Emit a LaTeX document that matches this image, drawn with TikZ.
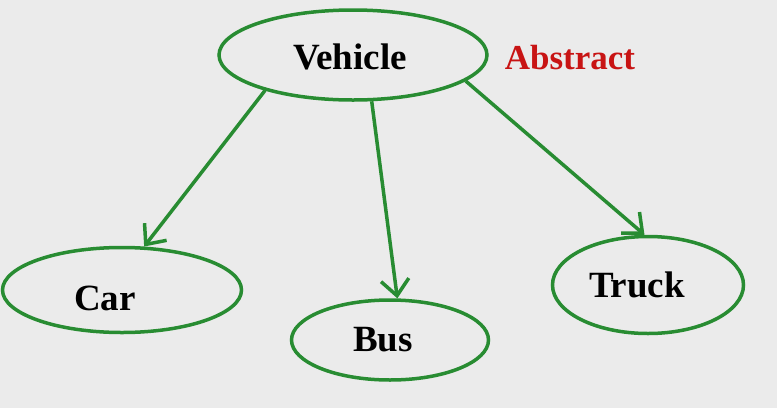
\documentclass[tikz,border=0pt]{standalone}
\usepackage{fontspec}
\setmainfont{Liberation Serif}
\usetikzlibrary{shapes.geometric,arrows.meta}
\definecolor{bg}{RGB}{235,235,235}
\definecolor{gr}{RGB}{40,140,50}
\definecolor{rd}{RGB}{200,20,20}
\begin{document}
\begin{tikzpicture}[x=1pt,y=-1pt,
  ell/.style={ellipse,draw=gr,line width=3.5pt,inner sep=0pt},
  txt/.style={font=\bfseries\fontsize{37}{40}\selectfont},
  conn/.style={draw=gr,line width=3.5pt,-{Straight Barb[length=16pt,width=28pt,line width=3.5pt]}}]
\fill[bg] (0,0) rectangle (777,408);
\useasboundingbox (0,0) rectangle (777,408);
\node[ell,minimum width=268pt,minimum height=90pt] (v) at (353,55) {};
\node[txt] at (350,57) {Vehicle};
\node[txt,text=rd,font=\bfseries\fontsize{35}{40}\selectfont] (abs) at (570,58) {Abstract};
\node[ell,minimum width=239pt,minimum height=85pt] (car) at (122,290) {};
\node[txt] at (105,298) {Car};
\node[ell,minimum width=197pt,minimum height=80pt] (bus) at (390,340) {};
\node[txt] at (383,340) {Bus};
\node[ell,minimum width=191pt,minimum height=97pt] (truck) at (648,285) {};
\node[txt] at (637,285) {Truck};
\draw[conn] (v.202) -- (car.63);
\draw[conn] (v.292) -- (bus.80);
\draw[conn] (v.347) -- (truck.94);
\end{tikzpicture}
\end{document}
